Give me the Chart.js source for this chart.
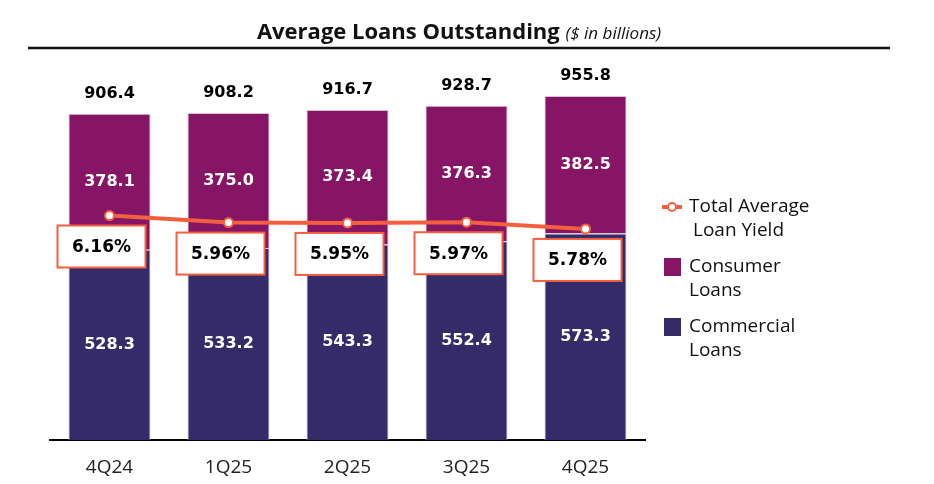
<!DOCTYPE html>
<html>
<head>
<meta charset="utf-8">
<script src="https://cdn.jsdelivr.net/npm/chart.js@4"></script>
<style>
  html, body { margin: 0; padding: 0; background: #fff; }
  #wrap { width: 934px; height: 484px; position: relative; }
</style>
</head>
<body>
<div id="wrap"><canvas id="chart"></canvas></div>
<script>
const quarters = ['4Q24', '1Q25', '2Q25', '3Q25', '4Q25'];
const commercialLoans = [528.3, 533.2, 543.3, 552.4, 573.3];
const consumerLoans = [378.1, 375.0, 373.4, 376.3, 382.5];
const totalLoans = [906.4, 908.2, 916.7, 928.7, 955.8];
const loanYield = [6.16, 5.96, 5.95, 5.97, 5.78];

const COMMERCIAL = '#362b69';
const CONSUMER = '#861565';
const CORAL = '#f4603f';
const NUM_FONT = '"DejaVu Sans", Verdana, sans-serif';
const TEXT_FONT = '"Open Sans", "Noto Sans", sans-serif';

// title, totals, value labels, yield boxes and legend
const decorations = {
  id: 'decorations',
  afterDatasetsDraw(chart) {
    const ctx = chart.ctx;
    const commercial = chart.getDatasetMeta(1).data;
    const consumer = chart.getDatasetMeta(2).data;
    const yieldPts = chart.getDatasetMeta(0).data;
    ctx.save();

    // title
    ctx.fillStyle = '#111';
    ctx.textBaseline = 'alphabetic';
    const t1 = 'Average Loans Outstanding ';
    ctx.font = 'bold 22px "Open Sans", sans-serif';
    const w1 = ctx.measureText(t1).width;
    ctx.font = 'italic 17px "Open Sans", sans-serif';
    const t2 = '($ in billions)';
    const w2 = ctx.measureText(t2).width;
    let tx = 459 - (w1 + w2) / 2;
    ctx.font = 'bold 22px "Open Sans", sans-serif';
    ctx.textAlign = 'left';
    ctx.fillText(t1, tx, 39);
    ctx.font = 'italic 17px "Open Sans", sans-serif';
    ctx.fillText(t2, tx + w1, 39);
    ctx.strokeStyle = '#111';
    ctx.lineWidth = 2.5;
    ctx.beginPath();
    ctx.moveTo(28, 48);
    ctx.lineTo(890, 48);
    ctx.stroke();

    ctx.textAlign = 'center';
    ctx.textBaseline = 'middle';
    for (let i = 0; i < quarters.length; i++) {
      const c = commercial[i], s = consumer[i];
      ctx.font = 'bold 16px ' + NUM_FONT;
      ctx.fillStyle = '#fff';
      ctx.fillText(commercialLoans[i].toFixed(1), c.x, (c.y + c.base) / 2);
      ctx.fillText(consumerLoans[i].toFixed(1), s.x, (s.y + s.base) / 2);
      ctx.fillStyle = '#000';
      ctx.fillText(totalLoans[i].toFixed(1), s.x, s.y - 20);

      const p = yieldPts[i];
      const bx = p.x - 8, by = p.y + 31;
      ctx.fillStyle = '#fff';
      ctx.fillRect(bx - 44, by - 21, 88, 42);
      ctx.strokeStyle = CORAL;
      ctx.lineWidth = 2;
      ctx.strokeRect(bx - 44, by - 21, 88, 42);
      ctx.fillStyle = '#000';
      ctx.font = 'bold 17px ' + NUM_FONT;
      ctx.fillText(loanYield[i].toFixed(2) + '%', bx, by + 1);
    }

    // legend
    ctx.textAlign = 'left';
    ctx.font = '19px ' + TEXT_FONT;
    ctx.strokeStyle = CORAL;
    ctx.lineWidth = 4;
    ctx.beginPath();
    ctx.moveTo(662, 207);
    ctx.lineTo(682, 207);
    ctx.stroke();
    ctx.beginPath();
    ctx.arc(672, 207, 4, 0, Math.PI * 2);
    ctx.fillStyle = '#fff';
    ctx.fill();
    ctx.lineWidth = 2;
    ctx.stroke();
    ctx.fillStyle = '#111';
    ctx.fillText('Total Average', 689, 207);
    ctx.fillText('Loan Yield', 693, 231);

    ctx.fillStyle = CONSUMER;
    ctx.fillRect(664, 258, 17, 18);
    ctx.fillStyle = '#111';
    ctx.fillText('Consumer', 689, 267);
    ctx.fillText('Loans', 689, 291);

    ctx.fillStyle = COMMERCIAL;
    ctx.fillRect(664, 318, 17, 18);
    ctx.fillStyle = '#111';
    ctx.fillText('Commercial', 689, 327);
    ctx.fillText('Loans', 689, 351);

    ctx.restore();
  }
};

new Chart(document.getElementById('chart'), {
  data: {
    labels: quarters,
    datasets: [
      {
        type: 'line',
        label: 'Total Average Loan Yield',
        data: loanYield,
        yAxisID: 'y1',
        borderColor: CORAL,
        borderWidth: 4,
        pointRadius: 4.5,
        pointBackgroundColor: '#fff',
        pointBorderColor: CORAL,
        pointBorderWidth: 2,
        tension: 0,
        order: 0
      },
      {
        type: 'bar',
        label: 'Commercial Loans',
        data: commercialLoans,
        backgroundColor: COMMERCIAL,
        borderColor: '#cfc8dc',
        borderWidth: { left: 1, right: 1, top: 1, bottom: 0 },
        stack: 'loans',
        barPercentage: 0.69,
        categoryPercentage: 1,
        order: 1
      },
      {
        type: 'bar',
        label: 'Consumer Loans',
        data: consumerLoans,
        backgroundColor: CONSUMER,
        borderColor: '#d9c2d4',
        borderWidth: { left: 1, right: 1, top: 1, bottom: 0 },
        stack: 'loans',
        barPercentage: 0.69,
        categoryPercentage: 1,
        order: 1
      }
    ]
  },
  options: {
    responsive: true,
    maintainAspectRatio: false,
    animation: false,
    layout: { padding: { left: 50, right: 289, top: 80, bottom: 0 } },
    plugins: {
      legend: { display: false },
      tooltip: { enabled: false }
    },
    scales: {
      x: {
        stacked: true,
        grid: { display: false },
        border: { display: true, color: '#000', width: 2 },
        ticks: {
          color: '#222',
          padding: 8,
          font: { family: TEXT_FONT, size: 19 }
        },
        afterFit(scale) { scale.height = 44; }
      },
      y: {
        stacked: true,
        display: false,
        min: 0,
        max: 1000
      },
      y1: {
        display: false,
        min: -0.2,
        max: 10
      }
    }
  },
  plugins: [decorations]
});
</script>
</body>
</html>
